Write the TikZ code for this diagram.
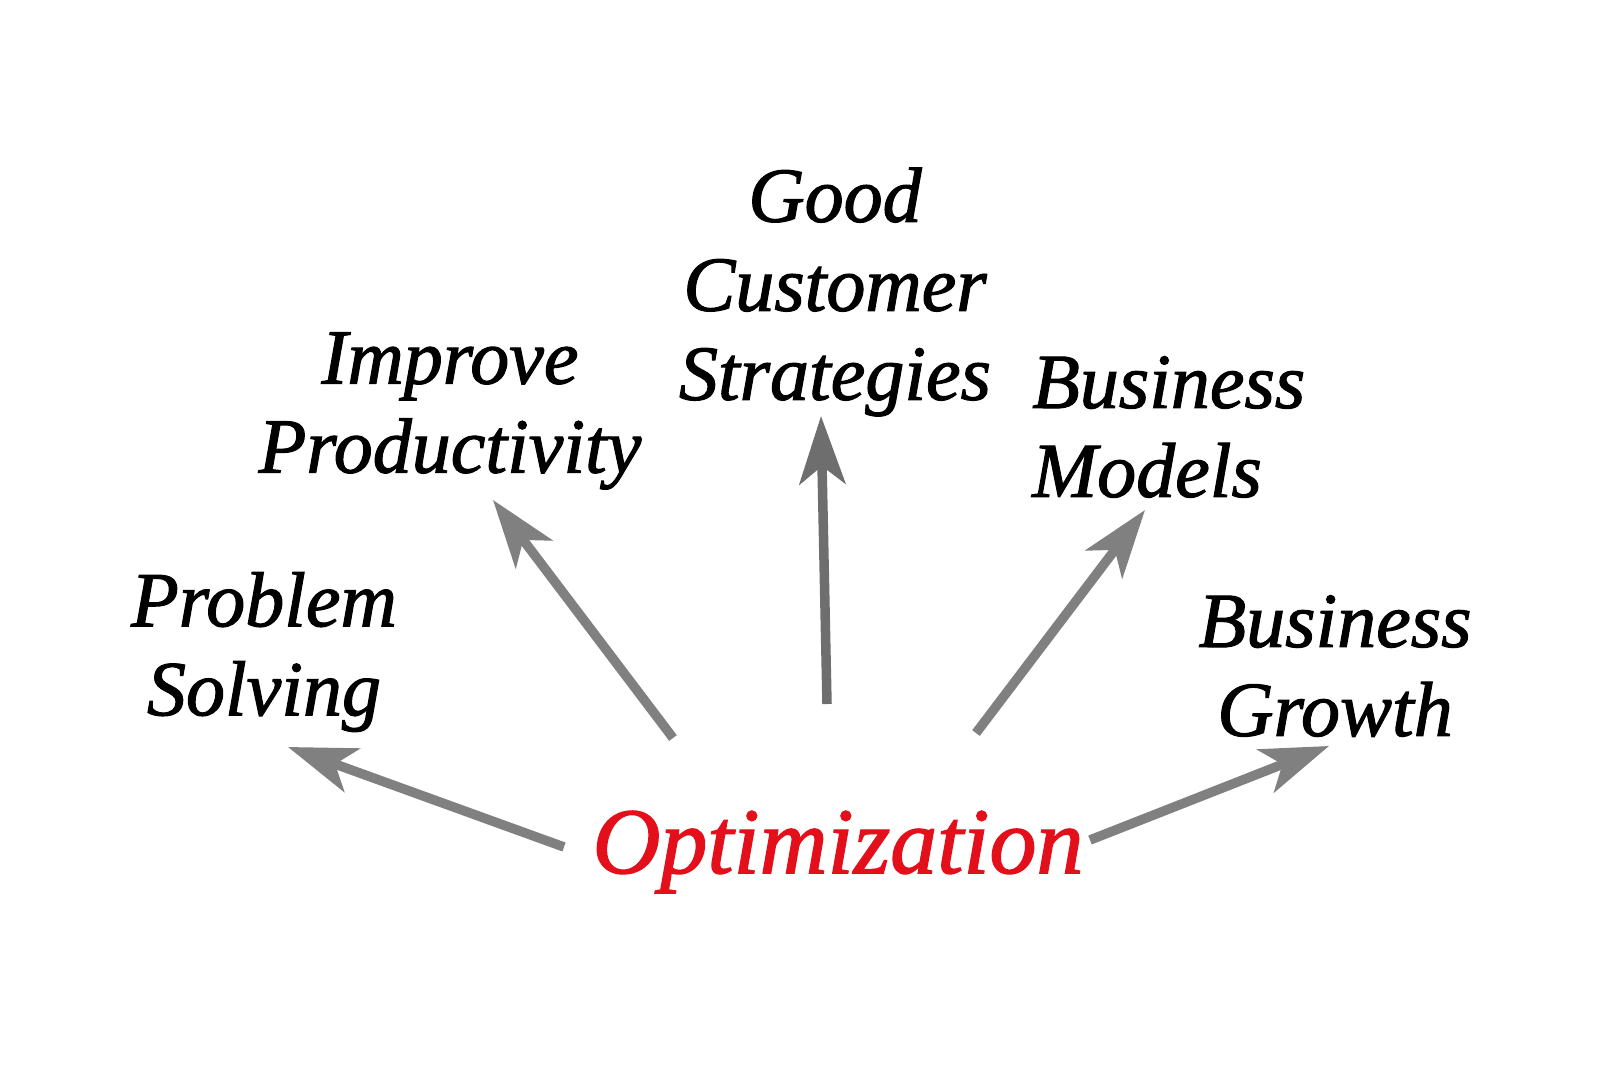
\documentclass[tikz,border=0pt]{standalone}
\usepackage{fontspec}
\setmainfont{Liberation Serif}[ItalicFeatures={FakeBold=1.4}]
\usetikzlibrary{arrows.meta}
\definecolor{arrgray}{HTML}{808080}
\definecolor{optred}{HTML}{E3101B}
\tikzset{
  lbl/.style={font=\itshape\fontsize{78}{89}\selectfont, inner sep=0pt, align=center, text=black},
  conn/.style={draw=arrgray, line width=9.5pt, -{Stealth[length=68pt, width=46pt, inset=18pt]}},
}
\begin{document}
\begin{tikzpicture}[x=1pt,y=-1pt]
\useasboundingbox[fill=white] (0,0) rectangle (1600,1065);
\node[font=\itshape\fontsize{94}{104}\selectfont, text=optred, inner sep=0pt] (opt) at (838,852) {Optimization};
\node[lbl] (ps) at (264,652) {Problem\\Solving};
\node[lbl] (ip) at (450,411) {Improve\\Productivity};
\node[lbl] (gc) at (835,292) {Good\\Customer\\Strategies};
\node[lbl, align=left, anchor=west] (bm) at (1032,427) {Business\\Models};
\node[lbl] (bg) at (1335,666) {Business\\Growth};
\coordinate (s1) at (564,847); \coordinate (e1) at (288,747);
\coordinate (s2) at (673,738); \coordinate (e2) at (493,500);
\coordinate (s3) at (827,704); \coordinate (e3) at (821,416);
\coordinate (s4) at (976,733); \coordinate (e4) at (1145,510);
\coordinate (s5) at (1090,840); \coordinate (e5) at (1329,746);
\draw[conn] (s1) -- (e1);
\draw[conn] (s2) -- (e2);
\draw[conn, draw=black!57] (s3) -- (e3);
\draw[conn] (s4) -- (e4);
\draw[conn] (s5) -- (e5);
\end{tikzpicture}
\end{document}
